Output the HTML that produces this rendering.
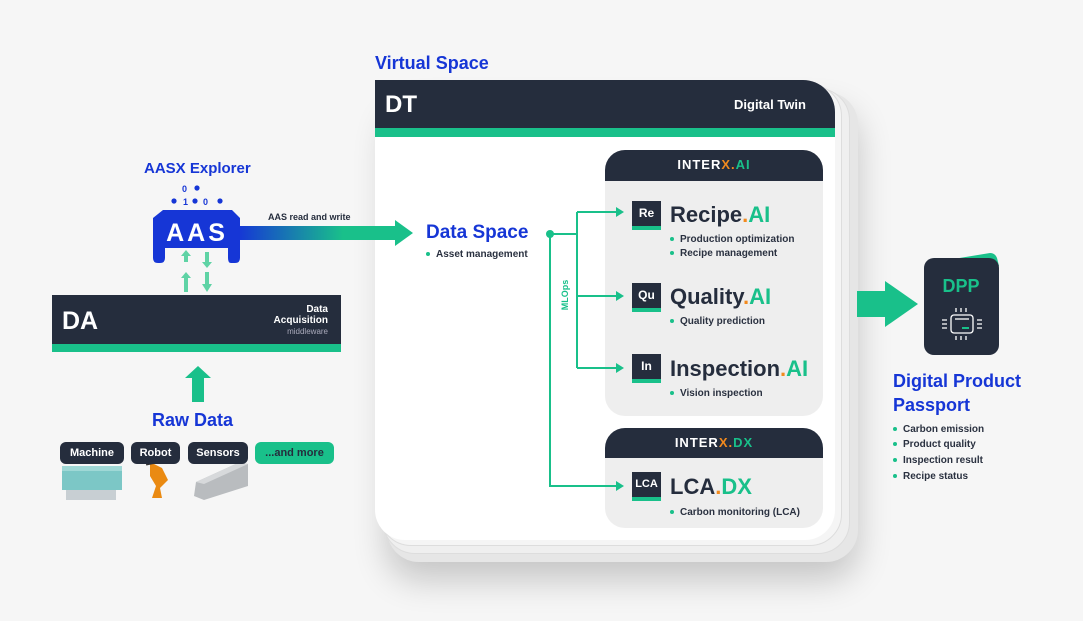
<!DOCTYPE html>
<html><head><meta charset="utf-8"><style>
*{margin:0;padding:0;box-sizing:border-box}
body{width:1083px;height:621px;background:#f6f6f6;position:relative;overflow:hidden;font-family:"Liberation Sans",sans-serif;color:#252d3d}
.a{position:absolute;white-space:nowrap}
.blue{color:#1636d6;font-weight:bold}
.b{font-size:10px;font-weight:bold;color:#2a3140}
.b:before{content:"";display:inline-block;width:4px;height:4px;border-radius:50%;background:#19c08a;margin-right:6px;vertical-align:middle}
.ico{position:absolute;width:29px;height:29px;background:#252d3d;border-bottom:4px solid #19c08a;color:#fff;font-weight:bold;font-size:12px;text-align:center;line-height:24px}
.tt{position:absolute;font-size:22px;font-weight:bold;color:#252d3d;white-space:nowrap}
.o{color:#f28a1e}.g{color:#19c08a}
.pill{position:absolute;height:22px;background:#252d3d;color:#fff;border-radius:6px;font-size:11px;font-weight:bold;text-align:center;line-height:22px}
</style></head><body>
<!-- stacked cards -->
<div class="a" style="left:387px;top:92px;width:471px;height:470px;border-radius:32px;background:#e6e6e6;box-shadow:0 18px 34px rgba(0,0,0,.2)"></div>
<div class="a" style="left:383px;top:88px;width:467px;height:466px;border-radius:32px;background:#efefef;border:1px solid #ddd"></div>
<div class="a" style="left:379px;top:84px;width:463px;height:462px;border-radius:32px;background:#f5f5f5;border:1px solid #ddd"></div>
<div class="a" style="left:375px;top:80px;width:460px;height:460px;border-radius:0 32px 30px 30px;background:#fff;overflow:hidden">
  <div style="height:48px;background:#252d3d"></div>
  <div style="height:9px;background:#19c08a"></div>
</div>
<div class="a blue" style="left:375px;top:53px;font-size:18px">Virtual Space</div>
<div class="a" style="left:385px;top:91px;font-size:24px;font-weight:bold;color:#fff">DT</div>
<div class="a" style="left:734px;top:97px;font-size:13px;font-weight:bold;color:#fff">Digital Twin</div>

<!-- INTERX.AI -->
<div class="a" style="left:605px;top:150px;width:218px;height:266px;border-radius:20px;background:#eeeeee;overflow:hidden"><div style="height:31px;background:#252d3d"></div></div>
<div class="a" style="left:605px;top:157px;width:218px;text-align:center;font-size:13px;font-weight:bold;color:#fff;letter-spacing:1px">INTER<span class="o">X.</span><span class="g">AI</span></div>
<div class="a" style="left:605px;top:428px;width:218px;height:100px;border-radius:20px;background:#eeeeee;overflow:hidden"><div style="height:30px;background:#252d3d"></div></div>
<div class="a" style="left:605px;top:435px;width:218px;text-align:center;font-size:13px;font-weight:bold;color:#fff;letter-spacing:1px">INTER<span class="o">X.</span><span class="g">DX</span></div>

<div class="ico" style="left:632px;top:201px">Re</div>
<div class="tt" style="left:670px;top:202px">Recipe<span class="o">.</span><span class="g">AI</span></div>
<div class="a b" style="left:670px;top:234px">Production optimization</div>
<div class="a b" style="left:670px;top:248px">Recipe management</div>
<div class="ico" style="left:632px;top:283px">Qu</div>
<div class="tt" style="left:670px;top:284px">Quality<span class="o">.</span><span class="g">AI</span></div>
<div class="a b" style="left:670px;top:316px">Quality prediction</div>
<div class="ico" style="left:632px;top:354px">In</div>
<div class="tt" style="left:670px;top:356px">Inspection<span class="o">.</span><span class="g">AI</span></div>
<div class="a b" style="left:670px;top:388px">Vision inspection</div>
<div class="ico" style="left:632px;top:472px;font-size:11px">LCA</div>
<div class="tt" style="left:670px;top:474px">LCA<span class="o">.</span><span class="g">DX</span></div>
<div class="a b" style="left:670px;top:507px">Carbon monitoring (LCA)</div>

<div class="a blue" style="left:426px;top:222px;font-size:19px">Data Space</div>
<div class="a b" style="left:426px;top:249px">Asset management</div>
<div class="a" style="left:550px;top:295px;font-size:9px;font-weight:bold;color:#19c08a;transform:translate(-50%,-50%) rotate(-90deg);margin-left:15px">MLOps</div>

<svg class="a" style="left:0;top:0" width="1083" height="621">
<defs><linearGradient id="gr" x1="0" x2="1"><stop offset="0" stop-color="#1636d6"/><stop offset="0.6" stop-color="#19c08a"/></linearGradient></defs>
<g stroke="#19c08a" stroke-width="2" fill="none">
<path d="M550 234H577M577 212V368M577 212H617M577 296H617M577 368H617M550 234V486H617"/>
</g>
<circle cx="550" cy="234" r="4" fill="#19c08a"/>
<g fill="#19c08a"><path d="M616 207L624 212L616 217Z"/><path d="M616 291L624 296L616 301Z"/><path d="M616 363L624 368L616 373Z"/><path d="M616 481L624 486L616 491Z"/></g>
<!-- AAS arrow -->
<path d="M238 226H395V220L413 233L395 246V240H238Z" fill="url(#gr)"/>
<!-- AAS icon -->
<path d="M163 210H232L240 218V258Q240 263 235 263H231Q228 263 228 258V248H165V258Q165 263 160 263H158Q153 263 153 258V218Z" fill="#1636d6"/>
<text x="197" y="241" font-family="Liberation Sans" font-weight="bold" font-size="25" fill="#fff" text-anchor="middle" letter-spacing="3">AAS</text>
<g fill="#1636d6" font-family="Liberation Sans" font-size="9" font-weight="bold">
<text x="182" y="192">0</text><circle cx="197" cy="188" r="2.6"/>
<circle cx="174" cy="201" r="2.6"/><text x="183" y="205">1</text><circle cx="195" cy="201" r="2.6"/><text x="203" y="205">0</text><circle cx="220" cy="201" r="2.6"/>
</g>
<g fill="#5fd3a5">
<path d="M186 250L191 256H188V262H184V256H181Z"/><path d="M186 272L191 278H188V292H184V278H181Z"/>
<path d="M205 252H209V262H212L207 268L202 262H205Z"/><path d="M205 272H209V284H212L207 292L202 284H205Z"/>
</g>
<path d="M198 366L211 378H204V402H192V378H185Z" fill="#19c08a"/>
<!-- DPP arrow -->
<path d="M857 291H885V281L918 304L885 327V317H857Z" fill="#19c08a"/>
<path d="M935 262L990 253Q995 253 997 258L999 266L935 266Z" fill="#19c08a"/>
<rect x="924" y="258" width="75" height="97" rx="10" fill="#252d3d"/>
<text x="961" y="292" font-family="Liberation Sans" font-weight="bold" font-size="18" fill="#19c08a" text-anchor="middle">DPP</text>
<g stroke="#fff" stroke-width="1.3" fill="none">
<rect x="951" y="315" width="22" height="18" rx="3"/><path d="M955 319H969"/>
<path d="M956 308V312M961 308V312M966 308V312M956 336V340M961 336V340M966 336V340M942 320H947M942 324H947M942 328H947M977 320H982M977 324H982M977 328H982"/>
</g>
<path d="M962 328H969" stroke="#19c08a" stroke-width="2"/>
<!-- machine images -->
<g>
<rect x="62" y="468" width="60" height="22" fill="#7cc7c6"/><rect x="62" y="466" width="60" height="5" fill="#9fd8d6"/>
<rect x="66" y="490" width="50" height="10" fill="#c8cfd3"/>
<path d="M150 462L162 468L168 480L160 488L162 498L152 498L156 486L150 476Z" fill="#ea8a12"/>
<path d="M146 464L156 462" stroke="#333" stroke-width="3"/>
<path d="M196 482L240 462L248 464L248 486L204 500L194 496Z" fill="#b9bcbf"/><path d="M196 482L240 462L248 464L204 484Z" fill="#d7d9db"/>
</g>
</svg>

<!-- left -->
<div class="a blue" style="left:144px;top:160px;font-size:15px">AASX Explorer</div>
<div class="a" style="left:268px;top:212px;font-size:9px;font-weight:bold">AAS read and write</div>
<div class="a" style="left:52px;top:295px;width:289px;height:57px;background:#252d3d;border-bottom:8px solid #19c08a"></div>
<div class="a" style="left:62px;top:307px;font-size:25px;font-weight:bold;color:#fff">DA</div>
<div class="a" style="left:240px;top:304px;width:88px;text-align:right;color:#fff;font-size:10px;font-weight:bold;line-height:11px">Data<br>Acquisition<br><span style="font-weight:normal;font-size:8px;color:#aab">middleware</span></div>
<div class="a blue" style="left:152px;top:410px;font-size:18px">Raw Data</div>
<div class="pill" style="left:60px;top:442px;width:64px">Machine</div>
<div class="pill" style="left:131px;top:442px;width:49px">Robot</div>
<div class="pill" style="left:188px;top:442px;width:60px">Sensors</div>
<div class="pill" style="left:255px;top:442px;width:79px;background:#19c08a;color:#252d3d">...and more</div>

<!-- DPP text -->
<div class="a blue" style="left:893px;top:369px;font-size:18px;line-height:24px">Digital Product<br>Passport</div>
<div class="a b" style="left:893px;top:424px">Carbon emission</div>
<div class="a b" style="left:893px;top:439px">Product quality</div>
<div class="a b" style="left:893px;top:455px">Inspection result</div>
<div class="a b" style="left:893px;top:471px">Recipe status</div>
</body></html>
